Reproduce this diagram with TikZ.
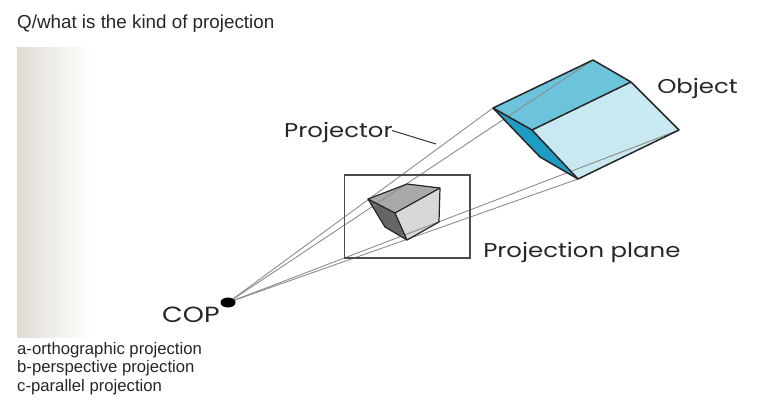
\documentclass[tikz,border=0pt]{standalone}
\usepackage{fontspec}
\setmainfont{Liberation Sans}
\newfontfamily\labelfont{Poppins}
\definecolor{wallgrey}{HTML}{DFDBD2}
\definecolor{wallmid}{HTML}{EFEFEA}
\definecolor{objtop}{HTML}{6CC3DC}
\definecolor{objfront}{HTML}{C8E9F2}
\definecolor{objside}{HTML}{1E9CC6}
\definecolor{imgtop}{HTML}{A9A9A9}
\definecolor{imgfront}{HTML}{D8D8D8}
\definecolor{imgside}{HTML}{666666}
\tikzset{
  x=1pt,y=-1pt,
  caption/.style={anchor=base west,inner sep=0pt,font=\fontsize{18.8}{18.8}\selectfont,text=black!85},
  answer/.style={anchor=base west,inner sep=0pt,font=\fontsize{16.7}{16.7}\selectfont,text=black!85},
  figlabel/.style={anchor=base west,inner sep=0pt,xscale=1.22,font=\labelfont\fontsize{20}{20}\selectfont,text=black!85},
  coplabel/.style={anchor=base west,inner sep=0pt,xscale=1.22,font=\labelfont\fontsize{22}{22}\selectfont,text=black!85},
  projector/.style={draw=black!45,line width=0.9pt},
  edge/.style={draw=black!85,line width=1.5pt,line join=round},
}
\begin{document}
\begin{tikzpicture}
\useasboundingbox (0,0) rectangle (783,402);
\shade[left color=wallgrey,right color=white,middle color=wallmid] (17,47) rectangle (92,337);
% points
\coordinate (cop) at (228,302.5);
\coordinate (oa) at (493,108);
\coordinate (ob) at (593,60);
\coordinate (oc) at (631,82);
\coordinate (od) at (679,130);
\coordinate (oe) at (578,179);
\coordinate (of) at (532,130);
\coordinate (og) at (540,157);
\coordinate (ia) at (368,199);
\coordinate (ib) at (407,184);
\coordinate (ic) at (440,188);
\coordinate (id) at (439,222);
\coordinate (ie) at (407,240);
\coordinate (if) at (395,213);
\coordinate (ig) at (385,227);
\coordinate (pl) at (344.5,175);
\coordinate (pr) at (470,258);
\coordinate (pj1) at (392,130.5);
\coordinate (pj2) at (436,144);
% object
\fill[objtop] (oa) -- (ob) -- (oc) -- (of) -- cycle;
\fill[objfront] (of) -- (oc) -- (od) -- (oe) -- cycle;
\fill[objside] (oa) -- (of) -- (oe) -- (og) -- cycle;
% image
\fill[imgtop] (ia) -- (ib) -- (ic) -- (if) -- cycle;
\fill[imgfront] (if) -- (ic) -- (id) -- (ie) -- cycle;
\fill[imgside] (ia) -- (if) -- (ie) -- (ig) -- cycle;
% projectors
\draw[projector] (cop) -- (oa);
\draw[projector] (cop) -- (ob);
\draw[projector] (cop) -- (oe);
\draw[projector] (cop) -- (od);
% outlines
\draw[edge] (oa) -- (ob) -- (oc) -- (od) -- (oe) -- (og) -- cycle;
\draw[edge] (oa) -- (of) -- (oc) (of) -- (oe);
\draw[edge,line width=1.2pt] (ia) -- (ib) -- (ic) -- (id) -- (ie) -- (ig) -- cycle;
\draw[edge,line width=1.2pt] (ia) -- (if) -- (ic) (if) -- (ie);
\draw[draw=black!70,line width=1.2pt] (pl) rectangle (pr);
\fill[black] (cop) ellipse [x radius=7.5,y radius=5];
\draw[draw=black!80,line width=1pt] (pj1) -- (pj2);
% text
\node[caption] (title) at (17,28) {Q/what is the kind of projection};
\node[figlabel] (lproj) at (284,137) {Projector};
\node[figlabel] (lobj) at (657,93) {Object};
\node[figlabel] (lplane) at (483,257) {Projection plane};
\node[coplabel] (lcop) at (162,322.5) {COP};
\node[answer] (a1) at (17,354) {a-orthographic projection};
\node[answer] (a2) at (17,372.5) {b-perspective projection};
\node[answer] (a3) at (17,391) {c-parallel projection};
\end{tikzpicture}
\end{document}
